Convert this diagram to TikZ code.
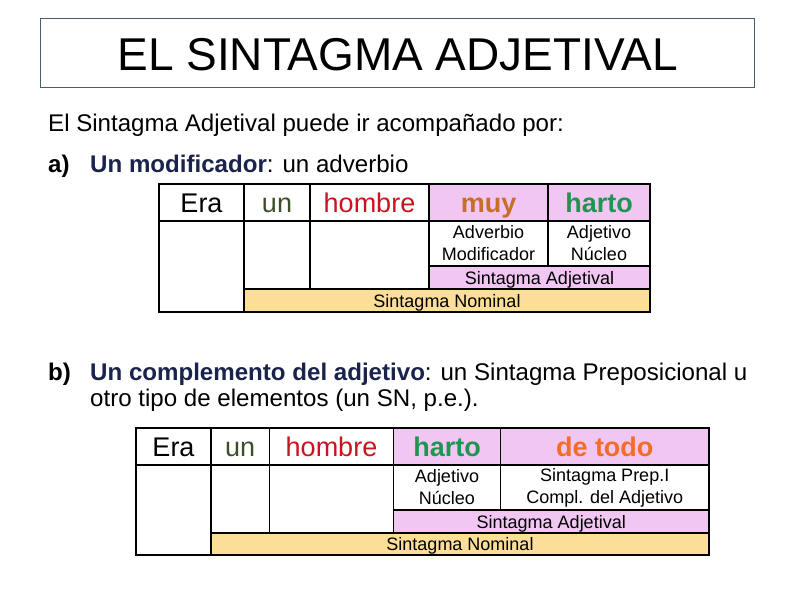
\documentclass[tikz,border=0pt]{standalone}
\usepackage{fontspec}
\setmainfont{Liberation Sans}
\usepackage{xcolor}
\usetikzlibrary{positioning}

\definecolor{rosa}{RGB}{242,198,242}
\definecolor{crema}{RGB}{252,222,150}
\definecolor{marco}{RGB}{70,95,105}
\definecolor{azulosc}{RGB}{25,35,75}
\definecolor{verdeosc}{RGB}{60,80,40}
\definecolor{rojo}{RGB}{200,20,30}
\definecolor{ocre}{RGB}{200,110,40}
\definecolor{verde}{RGB}{30,150,80}
\definecolor{naranja}{RGB}{240,110,40}

\begin{document}
\begin{tikzpicture}[x=1pt,y=-1pt,every node/.append style={align=center},
  titlebox/.style={draw=marco, line width=1.3pt, inner sep=0pt, anchor=north west, font=\fontsize{46}{50}\selectfont, text height=35pt, text depth=0pt},
  texto/.style={anchor=base west, inner sep=0pt, font=\fontsize{24.1}{27}\selectfont},
  cell/.style={draw, line width=1.8pt, inner sep=0pt, outer sep=0pt, anchor=north west},
  word/.style={font=\fontsize{27}{30}\selectfont, text height=19.5pt, text depth=0pt},
  bword/.style={font=\fontsize{27}{30}\selectfont\bfseries, text height=19.5pt, text depth=0pt},
  small/.style={font=\fontsize{18}{22}\selectfont},
  smallone/.style={font=\fontsize{18}{22}\selectfont, text height=13pt, text depth=0pt}]
    \fill[white] (0,0) rectangle (794,595);
    \useasboundingbox (0,0) rectangle (794,595);
    % title
    \node [titlebox, minimum width=714, minimum height=69] (titulo) at (40,18) {EL SINTAGMA ADJETIVAL};
    \node [texto] (intro) at (48,131) {El Sintagma Adjetival puede ir acompañado por:};
    % a)
    \node [texto, font=\fontsize{24.1}{27}\selectfont\bfseries] (la) at (48,172) {a)};
    \node [texto] (ta) at (90,172) {\textbf{\color{azulosc}Un modificador}: un adverbio};
    \node [cell, word, minimum width=85, minimum height=37] (eraA) at (159,184) {Era};
    \node [cell, minimum width=85, minimum height=91] (eraAv) at (159,221) {};
    \node [cell, word, text=verdeosc, minimum width=66, minimum height=37] (unA) at (244,184) {un};
    \node [cell, minimum width=66, minimum height=68] (unAv) at (244,221) {};
    \node [cell, word, text=rojo, minimum width=119, minimum height=37] (hombreA) at (310,184) {hombre};
    \node [cell, minimum width=119, minimum height=68] (hombreAv) at (310,221) {};
    \node [cell, bword, fill=rosa, text=ocre, minimum width=119, minimum height=37] (muyA) at (429,184) {muy};
    \node [cell, small, minimum width=119, minimum height=45] (advA) at (429,221) {Adverbio\\Modificador};
    \node [cell, bword, fill=rosa, text=verde, minimum width=102, minimum height=37] (hartoA) at (548,184) {harto};
    \node [cell, small, minimum width=102, minimum height=45] (adjA) at (548,221) {Adjetivo\\Núcleo};
    \node [cell, smallone, fill=rosa, minimum width=221, minimum height=23] (saA) at (429,266) {Sintagma Adjetival};
    \node [cell, smallone, fill=crema, minimum width=406, minimum height=23] (snA) at (244,289) {Sintagma Nominal};
    % b)
    \node [texto, font=\fontsize{24.1}{27}\selectfont\bfseries] (lb) at (48,380) {b)};
    \node [texto] (tb) at (90,380) {\textbf{\color{azulosc}Un complemento del adjetivo}: un Sintagma Preposicional u};
    \node [texto] (tb2) at (90,406) {otro tipo de elementos (un SN, p.e.).};
    \node [cell, word, minimum width=75, minimum height=37] (eraB) at (136,428) {Era};
    \node [cell, minimum width=75, minimum height=90] (eraBv) at (136,465) {};
    \node [cell, word, text=verdeosc, minimum width=58.5, minimum height=37] (unB) at (211,428) {un};
    \node [cell, minimum width=58.5, minimum height=68] (unBv) at (211,465) {};
    \node [cell, word, text=rojo, minimum width=124, minimum height=37] (hombreB) at (269.5,428) {hombre};
    \node [cell, minimum width=124, minimum height=68] (hombreBv) at (269.5,465) {};
    \node [cell, bword, fill=rosa, text=verde, minimum width=107, minimum height=37] (hartoB) at (393.5,428) {harto};
    \node [cell, small, minimum width=107, minimum height=45] (adjB) at (393.5,465) {Adjetivo\\Núcleo};
    \node [cell, bword, fill=rosa, text=naranja, minimum width=208.5, minimum height=37] (detodoB) at (500.5,428) {de todo};
    \node [cell, small, minimum width=208.5, minimum height=45] (spB) at (500.5,465) {Sintagma Prep.I\\Compl. del Adjetivo};
    \node [cell, smallone, fill=rosa, minimum width=315.5, minimum height=23] (saB) at (393.5,510) {Sintagma Adjetival};
    \node [cell, smallone, fill=crema, minimum width=498, minimum height=22] (snB) at (211,533) {Sintagma Nominal};
\end{tikzpicture}
\end{document}
